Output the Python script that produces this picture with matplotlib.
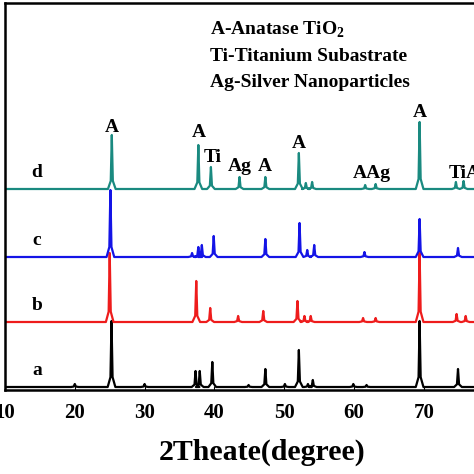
import numpy as np
import matplotlib
matplotlib.use("Agg")
import matplotlib.pyplot as plt

plt.rcParams['font.family'] = 'Liberation Serif'
plt.rcParams['font.weight'] = 'bold'
plt.rcParams['mathtext.fontset'] = 'custom'
plt.rcParams['mathtext.bf'] = 'Liberation Serif:bold'
plt.rcParams['mathtext.rm'] = 'Liberation Serif:bold'

# peak positions (2theta) and heights above each baseline
pos_a = [20.0, 25.26, 30.0, 37.3, 37.9, 39.7, 44.9, 47.3, 50.1, 52.1, 53.4, 54.1, 59.9, 61.8, 69.4, 74.9]
hgt_a = [3, 66, 3, 16, 16, 25, 2, 18, 3, 37, 3, 7, 3, 2, 66, 18]

pos_b = [25.0, 37.4, 39.4, 43.4, 47.0, 51.9, 52.9, 53.8, 61.3, 63.1, 69.4, 74.7, 76.0]
hgt_b = [69, 41, 14, 6, 11, 21, 6, 6, 4, 4, 69, 8, 6]

pos_c = [25.1, 36.8, 37.7, 38.2, 39.9, 47.3, 52.2, 53.3, 54.3, 61.5, 69.4, 74.9]
hgt_c = [67, 4, 10, 12, 21, 18, 34, 7, 12, 5, 38, 9]

pos_d = [25.3, 37.7, 39.5, 43.6, 47.3, 52.1, 53.1, 54.0, 61.6, 63.1, 69.4, 74.6, 75.7]
hgt_d = [54, 44, 22, 12, 12, 36, 6, 7, 4, 5, 67, 7, 8]

offsets = [3, 68, 133, 201]
names = ['a', 'b', 'c', 'd']
colors = ['black', '#ee1c1c', '#1414e6', '#1a8a80']

# peak labels: (x, y, text, ha)
peak_labels = [(25.3, 258, 'A', 'center'), (37.8, 253, 'A', 'center'),
               (39.7, 228, 'Ti', 'center'), (43.7, 219, 'Ag', 'center'),
               (47.3, 219, 'A', 'center'), (52.1, 242, 'A', 'center'),
               (62.5, 212, 'AAg', 'center'), (69.5, 273, 'A', 'center'),
               (73.6, 212, 'TiA', 'left')]
legend_lines = ['A-Anatase TiO$_\\mathbf{2}$', 'Ti-Titanium Subastrate', 'Ag-Silver Nanoparticles']


def profile(pos, hgt):
    # narrow tip with a slightly wider foot
    xs, ys = [10], [0]
    for p, h in zip(pos, hgt):
        xs += [p - 0.55, p - 0.15, p, p + 0.15, p + 0.55]
        ys += [0, 0.15 * h, h, 0.15 * h, 0]
    xs.append(80)
    ys.append(0)
    return np.array(xs), np.array(ys)


fig = plt.figure(figsize=(4.74, 4.74), dpi=100)
ax = fig.add_axes([5 / 474, 84 / 474, 70 * 6.98 / 474, 387 / 474])

series = [(pos_a, hgt_a), (pos_b, hgt_b), (pos_c, hgt_c), (pos_d, hgt_d)]
for (p, h), off, c, n in zip(series, offsets, colors, names):
    x, y = profile(p, h)
    ax.plot(x, y + off, color=c, lw=1.6)
    ax.text(14.6, off + 12, n, fontsize=14, fontweight='bold', ha='center', va='baseline')

for x, y, t, ha in peak_labels:
    ax.text(x, y, t, fontsize=14, fontweight='bold', ha=ha, va='baseline')

for i, t in enumerate(legend_lines):
    ax.text(39.4, 355 - 26 * i, t, fontsize=14, fontweight='bold', ha='left', va='baseline')

ax.set_xlim(10, 80)
ax.set_ylim(0, 387)
ax.set_yticks([])
ax.set_xticks(range(10, 80, 10))
ax.tick_params(axis='x', direction='in', length=3, pad=9, labelsize=15)
for s in ax.spines.values():
    s.set_linewidth(1.8)
ax.set_xlabel('2Theate(degree)', fontsize=21.5, fontweight='bold')
ax.xaxis.set_label_coords(0.527, -0.125)

fig.savefig('out.png', dpi=100)
